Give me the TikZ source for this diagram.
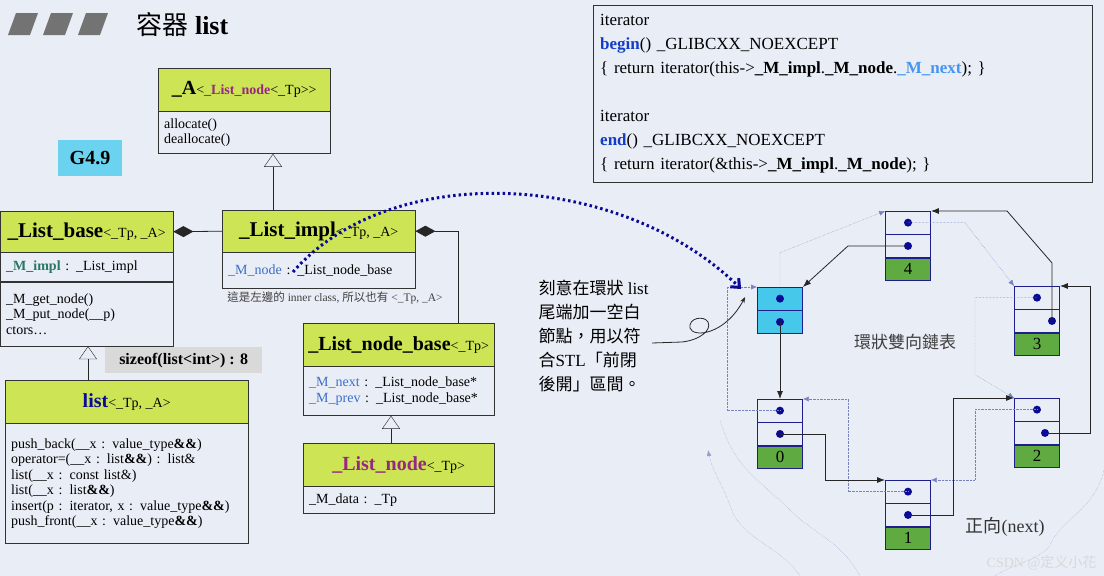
\documentclass[tikz,border=0pt]{standalone}
\usepackage{fontspec}
\setmainfont{Liberation Serif}
\newfontfamily\cjk{Noto Sans CJK TC}
\usetikzlibrary{arrows.meta}
\definecolor{bgcol}{RGB}{233,237,246}
\definecolor{hdrgreen}{RGB}{205,228,85}
\definecolor{nodegreen}{RGB}{95,170,65}
\definecolor{headcyan}{RGB}{70,200,235}
\definecolor{cellblue}{RGB}{30,30,140}
\definecolor{attrblue}{RGB}{60,110,200}
\definecolor{codeblue}{RGB}{20,60,200}
\definecolor{nextblue}{RGB}{70,150,240}
\definecolor{purp}{RGB}{150,40,130}
\definecolor{tealg}{RGB}{40,120,100}
\definecolor{dotblue}{RGB}{10,10,150}
\definecolor{prevgray}{RGB}{120,130,190}
\newcommand{\fs}[2]{\fontsize{#1}{#2}\selectfont}
\newcommand{\tp}[1]{{\fs{14}{16}\mdseries #1}}

\begin{document}
\begin{tikzpicture}[x=1pt,y=-1pt,
  hdr/.style={draw=black!80,fill=hdrgreen,anchor=north west,inner sep=4pt,align=center},
  body/.style={draw=black!80,anchor=north,inner sep=6pt,align=left,font=\fs{14}{15.5}},
  inh/.style={-{Triangle[open,length=13pt,width=18pt]},black!85},
  comp/.style={{Diamond[length=20pt,width=11pt]}-,black!85,thick},
  cell/.style={draw=cellblue,thick,minimum width=45,minimum height=22.5,inner sep=0pt,anchor=north},
  nxt/.style={-{Latex[length=8pt,width=6pt]},thick,black!85},
  prv/.style={-{Latex[length=6pt,width=5pt]},densely dotted,prevgray},
  wave/.style={densely dotted,prevgray!80}]
  \useasboundingbox (0,0) rectangle (1104,576);
  \fill[bgcol] (0,0) rectangle (1104,576);

%% title
  \foreach \x in {8,43,78}
    \fill[black!55] (\x,35) -- (\x+8,13) -- (\x+30,13) -- (\x+22,35) -- cycle;
  \node[anchor=west,font=\fs{26}{28}] (title) at (133,25) {{\cjk 容器} \textbf{list}};

%% class boxes
  \node[hdr,minimum width=172,minimum height=43] (A-h) at (158,68) {\fs{20}{22}\textbf{\_A}\tp{<\textcolor{purp}{\textbf{\_List\_node}}<\_Tp>{}>}};
  \node[body,text width=160,minimum height=42] (A-b) at (A-h.south) {allocate()\\deallocate()};
  \node[fill=headcyan!80,minimum width=64,minimum height=36,font=\fs{20}{22}\bfseries] (g49) at (90,158) {G4.9};

  \node[hdr,minimum width=173,minimum height=41] (base-h) at (0,211) {\fs{21}{23}\textbf{\_List\_base}\tp{<\_Tp, \_A>}};
  \node[body,text width=161,minimum height=29] (base-a) at (base-h.south) {\textcolor{tealg}{\textbf{\_M\_impl}} : \_List\_impl};
  \node[body,text width=161,minimum height=64] (base-m) at (base-a.south) {\_M\_get\_node()\\\_M\_put\_node(\_\_p)\\ctors\ldots};

  \node[hdr,minimum width=193,minimum height=42] (impl-h) at (222,210) {\fs{21}{23}\textbf{\_List\_impl}\tp{<\_Tp, \_A>}};
  \node[body,text width=181,minimum height=36] (impl-a) at (impl-h.south) {\textcolor{attrblue}{\_M\_node} : \_List\_node\_base};
  \node[font=\fs{11.5}{13},text=black!75] (note) at (335,298) {{\cjk 這是左邊的} inner class, {\cjk 所以也有} <\_Tp, \_A>};

  \node[hdr,minimum width=191,minimum height=43] (nb-h) at (303,323) {\fs{20}{22}\textbf{\_List\_node\_base}\tp{<\_Tp>}};
  \node[body,text width=179,minimum height=49] (nb-a) at (nb-h.south) {\textcolor{attrblue}{\_M\_next} : \_List\_node\_base*\\\textcolor{attrblue}{\_M\_prev} : \_List\_node\_base*};
  \node[hdr,minimum width=191,minimum height=43] (nd-h) at (303,443) {\fs{20}{22}\textcolor{purp}{\textbf{\_List\_node}}\tp{<\_Tp>}};
  \node[body,text width=179,minimum height=27] (nd-a) at (nd-h.south) {\_M\_data : \_Tp};

  \node[hdr,minimum width=243,minimum height=43] (lst-h) at (5,380) {\fs{20}{22}\textcolor{dotblue}{\textbf{list}}\tp{<\_Tp, \_A>}};
  \node[body,text width=231,minimum height=120] (lst-b) at (lst-h.south) {push\_back(\_\_x : value\_type\textbf{\&\&})\\operator=(\_\_x : list\textbf{\&\&}) : list\&\\list(\_\_x : const list\&)\\list(\_\_x : list\textbf{\&\&})\\insert(p : iterator, x : value\_type\textbf{\&\&})\\push\_front(\_\_x : value\_type\textbf{\&\&})};
  \node[fill=black!15,minimum width=157,minimum height=26,font=\fs{16}{18}\bfseries,anchor=north west] (sz) at (105,347) {sizeof(list<int>) : 8};

%% class relations
  \draw[inh] (impl-h.north -| 273,0) -- (A-b.south -| 273,0);
  \draw[inh] (lst-h.north -| 88,0) -- (base-m.south -| 88,0);
  \draw[inh] (nd-h.north -| 391,0) -- (nb-a.south -| 391,0);
  \draw[comp] (base-h.east) -- (impl-h.west);
  \draw[comp] (impl-h.east) -| ([xshift=60pt]nb-h.north);

%% code box
  \node[draw=black!80,anchor=north west,text width=485,minimum height=177,align=left,inner sep=7pt,font=\fs{17}{24}] (code) at (593,5) {%
    iterator\\
    \textcolor{codeblue}{\textbf{begin}}() \_GLIBCXX\_NOEXCEPT\\
    \{ return iterator(this->\textbf{\_M\_impl}.\textbf{\_M\_node}.\textcolor{nextblue}{\textbf{\_M\_next}}); \}\\[24pt]
    iterator\\
    \textcolor{codeblue}{\textbf{end}}() \_GLIBCXX\_NOEXCEPT\\
    \{ return iterator(\&this->\textbf{\_M\_impl}.\textbf{\_M\_node}); \}};

%% circular list
  \node[cell,fill=headcyan] (h-a) at (780,287) {};
  \node[cell,fill=headcyan] (h-b) at (h-a.south) {};
  \foreach \n/\x/\y in {0/780/399, 1/908/480, 2/1037/398, 3/1037/286, 4/908/211} {
    \node[cell] (n\n-a) at (\x,\y) {};
    \node[cell] (n\n-b) at (n\n-a.south) {};
    \node[cell,fill=nodegreen,font=\fs{17}{18}] (n\n-c) at (n\n-b.south) {\n};
  }
  \foreach \c in {h-a,h-b,n0-a,n0-b,n1-a,n1-b,n2-a,n3-a,n4-a,n4-b}
    \fill[dotblue] (\c.center) circle (4);
  \fill[dotblue] ([xshift=8pt]n2-b.center) circle (4);
  \fill[dotblue] ([xshift=15pt]n3-b.center) circle (4);

  \draw[prv] (h-a.center) -- ++(0,-46) -- (n4-a.north west);
  \draw[prv] (n4-a.center) -- ++(57,0) -- (n3-a.north west);
  \draw[prv] (n3-a.center) -- ++(-62,0) -- ++(0,77) -- (n2-a.north west);
  \draw[prv] (n2-a.center) -- ++(-62,0) |- (n1-a.north east);
  \draw[prv] (n1-a.center) -- ++(-60,0) |- (n0-a.north east);
  \draw[prv] (n0-a.center) -- ++(-53,0) |- (h-a.north west);

  \draw[nxt] (h-b.center) -- (n0-a.north);
  \draw[nxt] (n0-b.center) -- ++(45,0) |- (n1-a.north west);
  \draw[nxt] (n1-b.center) -- ++(45,0) |- (n2-a.north west);
  \draw[nxt] ([xshift=8pt]n2-b.center) -- ++(45,0) |- (n3-a.north east);
  \draw[nxt] ([xshift=15pt]n3-b.center) -- ++(0,-58) -- ++(-45,-52) -- (n4-a.north east);
  \draw[nxt] (n4-b.center) -- ++(-60,0) -- (h-a.north east);

  \node[font=\fs{17}{20}\cjk,text=black!75] (ring) at (905,342) {環狀雙向鏈表};
  \node[font=\fs{18}{20},text=black!80] (fwd) at (1005,527) {{\cjk 正向}(next)};

%% remarks
  \node[anchor=north west,align=left,font=\fs{17}{24}] (txt) at (535,277) {{\cjk 刻意在環狀} list\\{\cjk 尾端加一空白}\\{\cjk 節點，用以符}\\{\cjk 合}STL{\cjk 「前閉}\\{\cjk 後開」區間。}};
  \coordinate (curvein) at (293,272);
  \draw[dotblue,line width=3pt,dash pattern=on 2.5pt off 3pt,-{Straight Barb[length=7pt,width=12pt]}] (curvein) .. controls (390,160) and (620,170) .. ([xshift=-16pt,yshift=-2pt]h-a.north west);
  \draw[black!85,thick,-{Stealth[length=6pt]}] (txt.east |- 0,343) -- (682,342) .. controls (700,340) and (712,330) .. (708,322) .. controls (704,315) and (688,318) .. (690,328) .. controls (693,338) and (725,335) .. ([xshift=-12pt,yshift=-10pt]h-a.north west);

%% waves
  \draw[wave] (720,420) .. controls (735,470) and (760,480) .. (790,510) .. controls (815,535) and (840,540) .. (860,576);
  \draw[wave,-{Latex[length=6pt]}] (800,576) .. controls (780,545) and (740,540) .. (730,505) .. controls (720,480) and (712,470) .. (708,450);
  \draw[wave] (1104,470) .. controls (1095,510) and (1060,520) .. (1050,545) .. controls (1040,560) and (1010,565) .. (995,576);
  \node[font=\fs{14}{16},text=white!85!black,anchor=south east] (mark) at (1100,574) {CSDN @{\cjk 定义小花}};
\end{tikzpicture}
\end{document}
